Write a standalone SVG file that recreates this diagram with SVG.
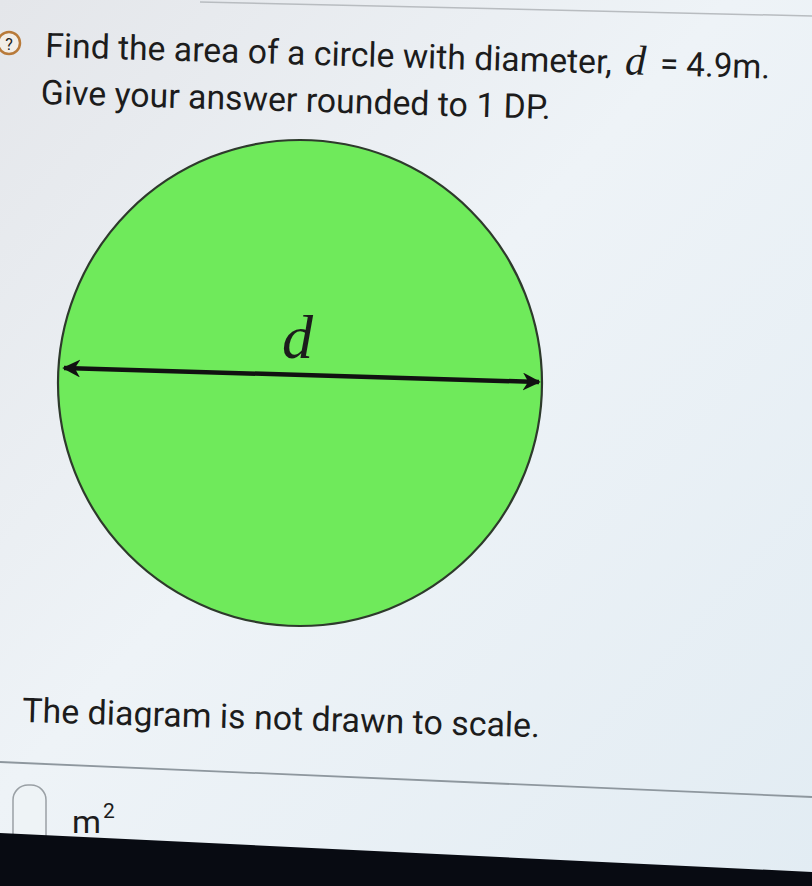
<svg xmlns="http://www.w3.org/2000/svg" width="812" height="886" viewBox="0 0 812 886">
<defs>
<linearGradient id="bg" x1="0" y1="0" x2="1" y2="1">
<stop offset="0" stop-color="#e4e6ea"/>
<stop offset="0.45" stop-color="#eef3f7"/>
<stop offset="1" stop-color="#e2ecf3"/>
</linearGradient>
<marker id="ah" viewBox="0 0 10 10" refX="9" refY="5" markerWidth="4" markerHeight="4" orient="auto-start-reverse" markerUnits="strokeWidth">
<path d="M0,0 L10,5 L0,10 L3,5 Z" fill="#111"/>
</marker>
<style>
.t{font-family:Roboto,"Liberation Sans",sans-serif;fill:#1c1c1c}
.v{font-family:"Liberation Serif","DejaVu Serif",serif;font-style:italic;fill:#1c1c1c}
</style>
</defs>
<rect width="812" height="886" fill="url(#bg)"/>
<line x1="200" y1="2" x2="812" y2="16" stroke="#b8bcc0" stroke-width="1.5"/>
<g id="help-icon">
<circle cx="9" cy="43" r="11" fill="#f2eee8" stroke="#b87a3a" stroke-width="2.5"/>
<text x="9" y="50" class="t" font-size="16" text-anchor="middle" fill="#666">?</text>
</g>
<g id="question" transform="rotate(1.7 45 57)">
<text class="t" font-size="34" x="45" y="57" textLength="567" lengthAdjust="spacingAndGlyphs">Find the area of a circle with diameter,</text>
<text class="v" font-size="42" x="625" y="57">d</text>
<text class="t" font-size="34" x="660" y="57" textLength="110" lengthAdjust="spacingAndGlyphs">= 4.9m.</text>
<text class="t" font-size="34" x="42" y="104" textLength="510" lengthAdjust="spacingAndGlyphs">Give your answer rounded to 1 DP.</text>
</g>
<g id="circle">
<ellipse cx="300" cy="383" rx="242" ry="243" fill="#6fea5b" stroke="#2e3a2c" stroke-width="2.2"/>
</g>
<g id="connectors">
<line x1="64" y1="368" x2="539" y2="382" stroke="#111" stroke-width="4.5" marker-start="url(#ah)" marker-end="url(#ah)"/>
</g>
<g id="label-d">
<text class="v" font-size="62" x="282" y="358">d</text>
</g>
<g id="note" transform="rotate(1.7 22 722)">
<text class="t" font-size="34" x="22" y="722" textLength="518" lengthAdjust="spacingAndGlyphs">The diagram is not drawn to scale.</text>
</g>
<line x1="0" y1="762" x2="812" y2="797" stroke="#8e979e" stroke-width="1.8"/>
<g id="answer">
<rect x="13" y="785" width="33" height="70" rx="15" fill="#eef3f6" stroke="#9aa0a5" stroke-width="1.5"/>
<text class="t" font-size="32" x="72" y="833" textLength="29" lengthAdjust="spacingAndGlyphs">m</text>
<text class="t" font-size="21" x="103" y="818">2</text>
</g>
<polygon points="0,833 812,872 812,886 0,886" fill="#080b12"/>
</svg>
